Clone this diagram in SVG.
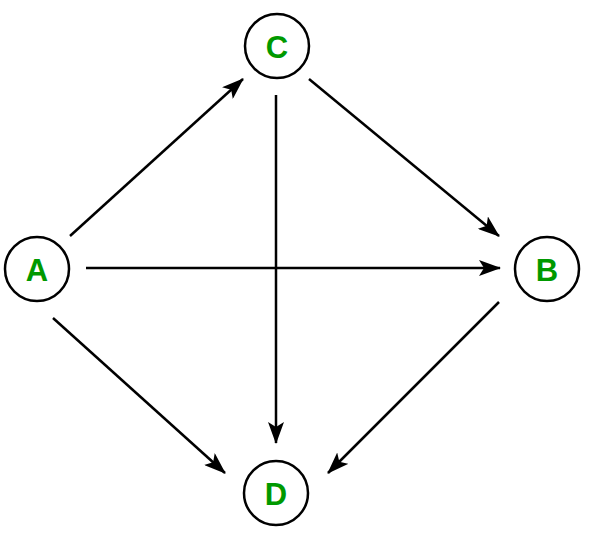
<svg xmlns="http://www.w3.org/2000/svg" width="589" height="538" viewBox="0 0 589 538">
<style>
.node circle{fill:#fff;stroke:#000;stroke-width:2.5}
.node text{font-family:"Liberation Sans",Arial,sans-serif;font-weight:bold;font-size:31px;fill:#009900;text-anchor:middle;dominant-baseline:central}
.edge{stroke:#000;stroke-width:2.5;fill:none;marker-end:url(#ah)}
</style>
<defs>
<marker id="ah" viewBox="0 0 22 16" refX="21" refY="8" markerWidth="22" markerHeight="16" markerUnits="userSpaceOnUse" orient="auto">
<path d="M0,0 L22,8 L0,16 L5,8 Z" fill="#000"/>
</marker>
</defs>
<g id="connectors">
<line class="edge" x1="70" y1="236" x2="243" y2="79"/>
<line class="edge" x1="309" y1="79" x2="499" y2="236"/>
<line class="edge" x1="86" y1="268" x2="500" y2="268"/>
<line class="edge" x1="276" y1="95" x2="276" y2="443"/>
<line class="edge" x1="53" y1="318" x2="225" y2="473"/>
<line class="edge" x1="499" y1="302" x2="328" y2="473"/>
</g>
<g id="node-C" class="node"><circle cx="277" cy="46" r="32"/><text x="277" y="47">C</text></g>
<g id="node-A" class="node"><circle cx="37" cy="269" r="32"/><text x="37" y="270">A</text></g>
<g id="node-B" class="node"><circle cx="547" cy="269" r="32"/><text x="547" y="270">B</text></g>
<g id="node-D" class="node"><circle cx="276" cy="493" r="32"/><text x="276" y="494">D</text></g>
</svg>
